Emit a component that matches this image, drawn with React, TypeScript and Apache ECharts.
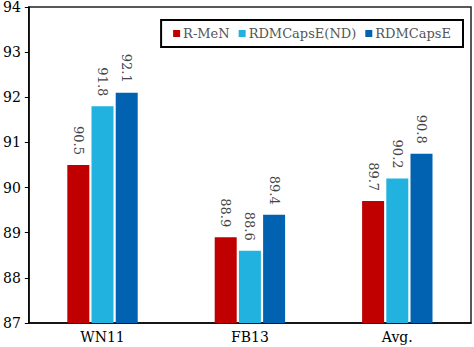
import React, { useEffect, useRef } from "react";
import * as echarts from "echarts";

const categories = ["WN11", "FB13", "Avg."];
const seriesNames = ["R-MeN", "RDMCapsE(ND)", "RDMCapsE"];
const rmen = [90.5, 88.9, 89.7];
const rdmNd = [91.8, 88.6, 90.2];
const rdm = [92.1, 89.4, 90.75];
const labelsText = [
  ["90.5", "88.9", "89.7"],
  ["91.8", "88.6", "90.2"],
  ["92.1", "89.4", "90.8"],
];
const colors = ["#C00000", "#22B2E0", "#0062B0"];

export default function App() {
  const ref = useRef<HTMLDivElement>(null);
  useEffect(() => {
    if (!ref.current) return;
    const chart = echarts.init(ref.current, undefined, { renderer: "svg" });
    const font = "DejaVu Serif";
    const data = [rmen, rdmNd, rdm];
    chart.setOption({
      animation: false,
      textStyle: { fontFamily: font },
      grid: {
        left: 27,
        right: 3,
        top: 7,
        bottom: 24,
        show: true,
        borderColor: "#222",
        borderWidth: 1.5,
      },
      legend: {
        data: seriesNames,
        right: 11,
        top: 20,
        padding: [7, 12],
        itemWidth: 7,
        itemHeight: 7,
        itemGap: 9,
        borderColor: "#000",
        borderWidth: 2,
        backgroundColor: "#fff",
        icon: "rect",
        textStyle: { fontFamily: font, fontSize: 13, color: "#555", padding: [0, 0, 0, -2] },
      },
      xAxis: {
        type: "category",
        data: categories,
        axisLine: { lineStyle: { color: "#000", width: 1.5 } },
        axisTick: { show: false },
        axisLabel: { fontFamily: font, fontSize: 14, color: "#000", margin: 7 },
      },
      yAxis: {
        type: "value",
        min: 87,
        max: 94,
        interval: 1,
        splitLine: { show: false },
        axisLine: { show: true, lineStyle: { color: "#000", width: 1.5 } },
        axisTick: { show: true, length: 4, inside: false, lineStyle: { color: "#000" } },
        axisLabel: { fontFamily: font, fontSize: 14, color: "#000", margin: 8 },
      },
      series: seriesNames.map((name, i) => ({
        name,
        type: "bar",
        barWidth: 22,
        barGap: "10%",
        data: data[i],
        itemStyle: { color: colors[i] },
        label: {
          show: true,
          position: "top",
          distance: 10,
          rotate: -90,
          align: "right",
          verticalAlign: "middle",
          fontFamily: font,
          fontSize: 13,
          color: "#444",
          formatter: (p: any) => labelsText[i][p.dataIndex],
        },
      })),
    });
    return () => chart.dispose();
  }, []);
  return <div ref={ref} style={{ width: 474, height: 347, position: "absolute", left: 0, top: 0 }} />;
}
